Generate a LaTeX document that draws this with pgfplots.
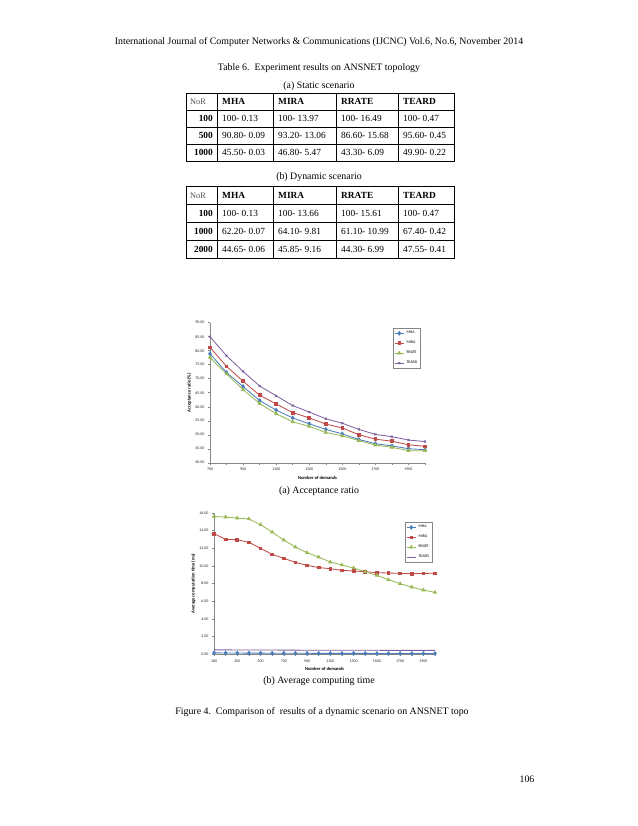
\documentclass[border=0pt]{standalone}
\usepackage{fontspec}
\setmainfont{Liberation Serif}
\newfontfamily\calibri{Carlito}
\usepackage{pgfplots}
\pgfplotsset{compat=1.18}
\usepackage{pgfplotstable}

\definecolor{mha}{RGB}{74,126,187}
\definecolor{mira}{RGB}{190,75,72}
\definecolor{rrate}{RGB}{152,185,84}
\definecolor{teard}{RGB}{125,96,160}
\definecolor{axgray}{RGB}{134,134,134}

% acceptance ratio (%), dynamic scenario
\pgfplotstableread{
x    MHA    MIRA   RRATE  TEARD
700  78.90  81.20  77.60  85.00
800  72.20  74.40  71.70  78.20
900  67.20  69.10  66.10  72.60
1000 62.20  64.10  61.10  67.40
1100 58.80  61.00  57.50  63.90
1200 56.00  57.90  54.60  60.40
1300 53.90  56.00  53.00  58.10
1400 51.90  53.80  50.80  55.70
1500 50.30  52.40  49.60  54.10
1600 48.30  50.00  47.90  51.90
1700 46.80  48.40  46.30  50.10
1800 46.00  47.70  45.50  49.30
1900 45.00  46.40  44.30  48.10
2000 44.65  45.85  44.30  47.55
}\acceptance

% average computation time (ms)
\pgfplotstableread{
x    MHA   MIRA   RRATE  TEARD
100  0.13  13.66  15.61  0.47
200  0.12  13.01  15.54  0.47
300  0.11  12.97  15.43  0.46
400  0.10  12.67  15.32  0.46
500  0.10  11.99  14.67  0.45
600  0.09  11.31  13.84  0.45
700  0.09  10.85  12.93  0.44
800  0.08  10.40  12.14  0.44
900  0.08  10.06  11.50  0.43
1000 0.07   9.81  10.99  0.42
1100 0.07   9.68  10.44  0.42
1200 0.07   9.49  10.10  0.42
1300 0.07   9.42   9.76  0.42
1400 0.07   9.34   9.34  0.42
1500 0.06   9.23   8.93  0.42
1600 0.06   9.19   8.43  0.41
1700 0.06   9.15   7.98  0.41
1800 0.06   9.12   7.60  0.41
1900 0.06   9.15   7.26  0.41
2000 0.06   9.16   6.99  0.41
}\comptime

\pgfplotsset{
  excel/.style={
    scale only axis,
    axis x line=bottom, axis y line=left,
    axis line style={axgray,-},
    every tick/.style={axgray},
    tick align=outside,
    major tick length=1.8bp,
    /pgf/number format/assume math mode=true,
    tick label style={font=\calibri\fontsize{3.8}{4.5}\selectfont, text=black!85},
    yticklabel style={/pgf/number format/.cd, fixed, fixed zerofill, precision=2},
    scaled y ticks=false,
    xlabel style={font=\calibri\bfseries\fontsize{4.4}{5}\selectfont, yshift=2bp},
    ylabel style={font=\calibri\bfseries\fontsize{4.4}{5}\selectfont, yshift=-3bp},
    legend cell align=left,
    legend style={draw=axgray, line width=0.3pt, inner sep=1bp, row sep=1.6bp,
      font=\calibri\fontsize{3.8}{4.5}\selectfont},
    legend image code/.code={%
      \draw[mark repeat=2, mark phase=2, #1] plot coordinates {(0cm,0cm) (0.16cm,0cm) (0.32cm,0cm)};},
  },
  smha/.style={mha, line width=0.8pt, mark=diamond*, mark size=1.7pt, mark options={solid}},
  smira/.style={mira, line width=0.8pt, mark=square*, mark size=1.3pt, mark options={solid}},
  srrate/.style={rrate, line width=0.8pt, mark=triangle*, mark size=1.6pt, mark options={solid}},
  steard/.style={teard, line width=0.8pt, mark=x, mark size=1.3pt, mark options={solid}},
}

\begin{document}
\begin{tikzpicture}
\begin{scope}[x=0.95925bp, y=-0.95925bp]
  \fill[white] (0,0) rectangle (638,826);
  \node[font=\fontsize{9.5}{11}\selectfont] at (319,42) {International Journal of Computer Networks \& Communications (IJCNC) Vol.6, No.6, November 2014};
  \node[font=\fontsize{9.5}{11}\selectfont] at (319,68) {Table 6.\ \ Experiment results on ANSNET topology};
  \node[font=\fontsize{9.5}{11}\selectfont] at (319,86) {(a) Static scenario};
  \node[font=\fontsize{9.5}{11}\selectfont] at (319,177) {(b) Dynamic scenario};

  % table (a)
  \begin{scope}[font=\fontsize{9}{10}\selectfont, every node/.style={text height=1.6ex, text depth=0.3ex, inner sep=0}]
    \draw[line width=0.5pt] (186,93) rectangle (454,161);
    \foreach \y in {110,127,144} \draw[line width=0.4pt] (186,\y) -- (454,\y);
    \foreach \x in {217,273,336,398} \draw[line width=0.4pt] (\x,93) -- (\x,161);
    \node[anchor=west, text=black!70, font=\fontsize{8}{9}\selectfont] at (190,101.5) {NoR};
    \node[anchor=west, font=\fontsize{9}{10}\selectfont\bfseries] at (222,101.5) {MHA};
    \node[anchor=west, font=\fontsize{9}{10}\selectfont\bfseries] at (278,101.5) {MIRA};
    \node[anchor=west, font=\fontsize{9}{10}\selectfont\bfseries] at (341,101.5) {RRATE};
    \node[anchor=west, font=\fontsize{9}{10}\selectfont\bfseries] at (403,101.5) {TEARD};
    \node[anchor=east, font=\fontsize{9}{10}\selectfont\bfseries] at (213,118.5) {100};
    \node[anchor=east, font=\fontsize{9}{10}\selectfont\bfseries] at (213,135.5) {500};
    \node[anchor=east, font=\fontsize{9}{10}\selectfont\bfseries] at (213,152.5) {1000};
    \node[anchor=west] at (222,118.5) {100- 0.13};
    \node[anchor=west] at (278,118.5) {100- 13.97};
    \node[anchor=west] at (341,118.5) {100- 16.49};
    \node[anchor=west] at (403,118.5) {100- 0.47};
    \node[anchor=west] at (222,135.5) {90.80- 0.09};
    \node[anchor=west] at (278,135.5) {93.20- 13.06};
    \node[anchor=west] at (341,135.5) {86.60- 15.68};
    \node[anchor=west] at (403,135.5) {95.60- 0.45};
    \node[anchor=west] at (222,152.5) {45.50- 0.03};
    \node[anchor=west] at (278,152.5) {46.80- 5.47};
    \node[anchor=west] at (341,152.5) {43.30- 6.09};
    \node[anchor=west] at (403,152.5) {49.90- 0.22};
  \end{scope}

  % table (b)
  \begin{scope}[font=\fontsize{9}{10}\selectfont, every node/.style={text height=1.6ex, text depth=0.3ex, inner sep=0}]
    \draw[line width=0.5pt] (186,186) rectangle (454,258);
    \foreach \y in {204,222,240} \draw[line width=0.4pt] (186,\y) -- (454,\y);
    \foreach \x in {217,273,336,398} \draw[line width=0.4pt] (\x,186) -- (\x,258);
    \node[anchor=west, text=black!70, font=\fontsize{8}{9}\selectfont] at (190,195) {NoR};
    \node[anchor=west, font=\fontsize{9}{10}\selectfont\bfseries] at (222,195) {MHA};
    \node[anchor=west, font=\fontsize{9}{10}\selectfont\bfseries] at (278,195) {MIRA};
    \node[anchor=west, font=\fontsize{9}{10}\selectfont\bfseries] at (341,195) {RRATE};
    \node[anchor=west, font=\fontsize{9}{10}\selectfont\bfseries] at (403,195) {TEARD};
    \node[anchor=east, font=\fontsize{9}{10}\selectfont\bfseries] at (213,213) {100};
    \node[anchor=east, font=\fontsize{9}{10}\selectfont\bfseries] at (213,231) {1000};
    \node[anchor=east, font=\fontsize{9}{10}\selectfont\bfseries] at (213,249) {2000};
    \node[anchor=west] at (222,213) {100- 0.13};
    \node[anchor=west] at (278,213) {100- 13.66};
    \node[anchor=west] at (341,213) {100- 15.61};
    \node[anchor=west] at (403,213) {100- 0.47};
    \node[anchor=west] at (222,231) {62.20- 0.07};
    \node[anchor=west] at (278,231) {64.10- 9.81};
    \node[anchor=west] at (341,231) {61.10- 10.99};
    \node[anchor=west] at (403,231) {67.40- 0.42};
    \node[anchor=west] at (222,249) {44.65- 0.06};
    \node[anchor=west] at (278,249) {45.85- 9.16};
    \node[anchor=west] at (341,249) {44.30- 6.99};
    \node[anchor=west] at (403,249) {47.55- 0.41};
  \end{scope}

  \node[font=\fontsize{9.5}{11}\selectfont] at (319,491) {(a) Acceptance ratio};
  \node[font=\fontsize{9.5}{11}\selectfont] at (319,681) {(b) Average computing time};
  \node[font=\fontsize{9.5}{11}\selectfont] at (322,712) {Figure 4.\ \ Comparison of\ \ results of a dynamic scenario on ANSNET topo};
  \node[font=\fontsize{9.5}{11}\selectfont] at (527,779) {106};
\end{scope}

% (a) acceptance ratio
\begin{axis}[excel,
  at={({210*0.95925bp},{-462.7*0.95925bp})}, anchor=south west,
  width={215*0.95925bp}, height={140*0.95925bp},
  xmin=700, xmax=2000, ymin=40, ymax=90,
  xtick={700,800,...,2000},
  xticklabels={700,,900,,1100,,1300,,1500,,1700,,1900,},
  ytick={40,45,...,90},
  xlabel={Number of demands},
  ylabel={Acceptance ratio (\%)},
  legend style={at={(rel axis cs:0.851,0.962)}, anchor=north west},
]
\addplot[smha] table[x=x, y=MHA] {\acceptance};
\addplot[smira] table[x=x, y=MIRA] {\acceptance};
\addplot[srrate] table[x=x, y=RRATE] {\acceptance};
\addplot[steard] table[x=x, y=TEARD] {\acceptance};
\legend{MHA, MIRA, RRATE, TEARD}
\end{axis}

% (b) average computation time
\begin{axis}[excel,
  at={({214*0.95925bp},{-654*0.95925bp})}, anchor=south west,
  width={221*0.95925bp}, height={141*0.95925bp},
  xmin=100, xmax=2000, ymin=0, ymax=16,
  xtick={100,200,...,2000},
  xticklabels={100,,300,,500,,700,,900,,1100,,1300,,1500,,1700,,1900,},
  ytick={0,2,...,16},
  xlabel={Number of demands},
  ylabel={Average computation time (ms)},
  legend style={at={(rel axis cs:0.864,0.936)}, anchor=north west},
]
\addplot[smha] table[x=x, y=MHA] {\comptime};
\addplot[smira] table[x=x, y=MIRA] {\comptime};
\addplot[srrate] table[x=x, y=RRATE] {\comptime};
\addplot[teard, line width=0.8pt] table[x=x, y=TEARD] {\comptime};
\legend{MHA, MIRA, RRATE, TEARD}
\end{axis}
\end{tikzpicture}
\end{document}
